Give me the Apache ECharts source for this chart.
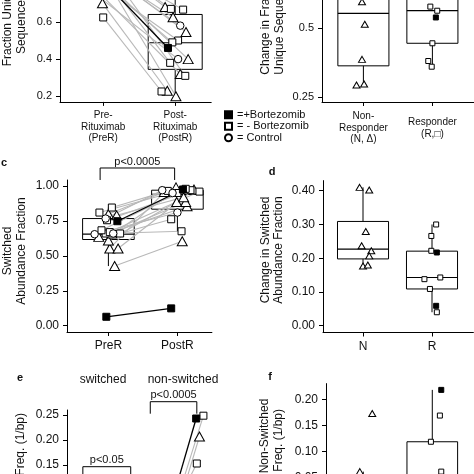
<!DOCTYPE html>
<html><head><meta charset="utf-8">
<script src="https://cdn.jsdelivr.net/npm/echarts@6/dist/echarts.min.js"></script>
<style>html,body{margin:0;padding:0;background:#fff}#c{width:474px;height:474px}</style>
</head><body><div id="c"></div>
<script>
// ---------- Panel a : fraction unique sequences, paired PreR / PostR ----------
const aCats = ['Pre-\nRituximab\n(PreR)', 'Post-\nRituximab\n(PostR)'];
const aShapes = ['tri','sq','sq','tri','circ','tri','sq','sq','fill','circ','tri','sq','tri','sq','sq','tri','tri','circ','sq','tri'];
const aPre    = [0.92,0.95,0.88,0.90,0.86,0.84,0.80,0.78,0.82,0.76,0.79,0.83,0.77,0.85,0.624,0.70,0.81,0.97,0.93,0.89];
const aPost   = [0.68,0.67,0.666,0.625,0.58,0.546,0.50,0.49,0.46,0.40,0.40,0.38,0.32,0.31,0.226,0.23,0.20,0.77,0.80,0.76];
const aPreJit = [0.06,-0.08,0.12,-0.12,0.03,0.15,-0.05,0.09,0.0,-0.14,0.10,0.04,-0.09,0.13,0.0,-0.01,0.07,-0.06,0.11,-0.03];
const aPostJit= [-0.14,-0.06,0.11,-0.03,0.07,0.15,0.04,-0.04,-0.10,0.04,0.18,-0.07,0.07,0.14,-0.19,-0.11,0.01,0.0,-0.10,0.12];
const aBoxes  = [[0.72,0.78,0.84,0.90,0.97],[0.20,0.345,0.488,0.64,0.80]]; // [low, q1, median, q3, high]
const aTicks  = [0.2,0.4,0.6,0.8,1.0];

// ---------- Panel b : change in fraction unique sequences (log scale) ----------
const bCats = ['Non-\nResponder\n(N, Δ)', 'Responder\n(R,□)'];
const bNVals = [0.282,0.285,0.365,0.519,0.651,0.74,0.82,0.95];
const bNJit  = [-0.10,0.01,-0.02,0.02,-0.02,0.08,-0.06,0.05];
const bNShapes = ['tri','tri','tri','tri','tri','tri','tri','tri'];
const bRVals = [0.339,0.359,0.429,0.556,0.595,0.62,0.72,0.80,0.90];
const bRJit  = [-0.01,-0.06,0.0,0.05,0.07,-0.03,0.04,-0.05,0.06];
const bRShapes = ['sq','sq','sq','fill','sq','sq','sq','fill','sq'];
const bBoxes = [[0.282,0.342,0.579,0.76,0.95],[0.339,0.429,0.595,0.72,0.90]];
const bTicks = [0.25,0.5,1];

// ---------- Panel c : switched abundance fraction, paired ----------
const cCats = ['PreR','PostR'];
const cShapes = ['fill','fill','tri','tri','tri','tri','tri','tri','tri','tri','sq','sq','sq','sq','sq','sq','sq','circ','circ','circ'];
const cPre    = [0.748,0.064,0.427,0.553,0.553,0.61,0.636,0.66,0.80,0.79,0.66,0.66,0.683,0.67,0.755,0.81,0.846,0.767,0.655,0.66];
const cPost   = [0.975,0.124,0.605,0.957,0.975,0.886,0.855,0.886,0.99,0.92,0.676,0.762,0.95,0.96,0.97,0.98,0.965,0.97,0.81,0.95];
const cPreJit = [0.13,-0.03,0.09,0.02,0.14,0.0,-0.14,0.05,0.0,0.12,-0.04,0.17,-0.10,0.02,-0.02,-0.13,0.05,-0.04,-0.20,0.07];
const cPostJit= [0.08,-0.09,0.07,-0.19,0.24,-0.01,0.14,0.12,-0.02,0.09,0.06,-0.09,0.0,0.32,0.19,0.12,-0.14,-0.22,0.0,-0.07];
const cBoxes  = [[0.427,0.617,0.655,0.767,0.846],[0.676,0.834,0.94,0.97,0.99]];
const cTicks  = [0,0.25,0.5,0.75,1.0];

// ---------- Panel d : change in switched abundance fraction ----------
const dCats = ['N','R'];
const dNVals = [0.41,0.402,0.279,0.237,0.222,0.207,0.177,0.18];
const dNJit  = [-0.05,0.09,0.04,-0.02,0.12,0.09,0.0,0.07];
const dNShapes = ['tri','tri','tri','tri','tri','tri','tri','tri'];
const dRVals = [0.30,0.266,0.222,0.217,0.138,0.143,0.109,0.059,0.04];
const dRJit  = [0.06,-0.01,-0.01,0.07,-0.11,0.12,-0.03,0.06,0.07];
const dRShapes = ['sq','sq','sq','fill','sq','sq','sq','fill','sq'];
const dBoxes = [[0.177,0.198,0.227,0.309,0.41],[0.04,0.109,0.143,0.221,0.30]];
const dTicks = [0,0.1,0.2,0.3,0.4];

// ---------- Panel e : mutation frequency, switched / non-switched facets ----------
const eCats = ['PreR','PostR'];
const eSwShapes = ['fill','sq','tri','sq','tri','circ','tri','sq'];
const eSwPre    = [0.08,0.07,0.09,0.06,0.075,0.085,0.065,0.07];
const eSwPost   = [0.10,0.11,0.09,0.115,0.095,0.105,0.08,0.10];
const eSwPreJit = [0.0,0.08,-0.06,0.1,-0.1,0.04,0.12,-0.03];
const eSwPostJit= [0.02,-0.08,0.1,0.05,-0.05,0.12,-0.1,0.0];
const eNsShapes = ['fill','sq','tri','sq','tri','sq','circ','tri'];
const eNsPre    = [0.03,0.025,0.012,0.02,0.03,0.035,0.025,0.02];
const eNsPost   = [0.243,0.2486,0.207,0.153,0.11,0.09,0.07,0.06];
const eNsPreJit = [0.0,0.10,0.15,-0.05,0.05,-0.10,0.0,0.08];
const eNsPostJit= [-0.06,0.16,0.04,-0.04,0.10,-0.05,0.02,0.08];
const eTicks = [0,0.05,0.10,0.15,0.20,0.25];

// ---------- Panel f : change in non-switched mutation frequency ----------
const fCats = ['N','R'];
const fNVals = [0.173,0.062,0.045,0.03,0.04,0.02,0.035,0.048];
const fNJit  = [0.13,-0.05,0.05,-0.08,0.1,0.0,-0.1,0.06];
const fNShapes = ['tri','tri','tri','tri','tri','tri','tri','tri'];
const fRVals = [0.218,0.169,0.119,0.062,0.05,0.045,0.04,0.03,0.02];
const fRJit  = [0.13,0.11,-0.02,0.13,-0.08,0.05,-0.1,0.08,0.0];
const fRShapes = ['fill','sq','sq','sq','sq','sq','sq','fill','sq'];
const fBoxes = [[0.02,0.03,0.04,0.046,0.062],[0.02,0.03,0.045,0.119,0.218]];
const fTicks = [0,0.05,0.10,0.15,0.20];

// ---------- brackets (p-values) ----------
const brackets = [
  {axis:2, from:0.88, to:1.96, at:1.129, text:'p<0.0005'},
  {axis:5, from:0.55, to:1.96, at:0.2766, text:'p<0.0005'},
  {axis:4, from:0.84, to:2.29, at:0.1466, text:'p<0.05'}
];

const FONT = '"Liberation Sans", Arial, Helvetica, sans-serif';
const INK = '#111';
const SYM = {tri:'triangle', sq:'rect', fill:'rect', circ:'circle'};
const NAME = {fill:'=+Bortezomib', sq:'= - Bortezomib', circ:'= Control', tri:'Non-Responder'};
const BIG = {tri:[10,9], sq:7, circ:7.5, fill:7};
const SMALL = {tri:[7,6], sq:5, circ:5, fill:5};

function scatterSeries(ai, shapes, vals, jit, base, sizes) {
  const out = [];
  ['tri','sq','circ','fill'].forEach(sh => {
    const data = [];
    vals.forEach((v,i) => { if (shapes[i] === sh) data.push([base + jit[i], v]); });
    if (!data.length) return;
    out.push({type:'scatter', name:NAME[sh], xAxisIndex:ai, yAxisIndex:ai, symbol:SYM[sh],
      symbolSize:sizes[sh], data, z:4, silent:true, animation:false,
      itemStyle:{color: sh === 'fill' ? '#000' : '#fff', borderColor:'#000', borderWidth:1, opacity:1}});
  });
  return out;
}
function pairSeries(ai, shapes, pre, post, preJ, postJ) {
  return {type:'custom', xAxisIndex:ai, yAxisIndex:ai, z:2, silent:true, animation:false,
    data: pre.map((v,i) => [1 + preJ[i], v, 2 + postJ[i], post[i], shapes[i] === 'fill' ? 1 : 0]),
    renderItem(p, api) {
      const a = api.coord([api.value(0), api.value(1)]);
      const b = api.coord([api.value(2), api.value(3)]);
      const dark = api.value(4) === 1;
      return {type:'line', z2: dark ? 10 : 1, shape:{x1:a[0], y1:a[1], x2:b[0], y2:b[1]},
        style:{stroke: dark ? '#000' : '#b8b8b8', lineWidth: dark ? 1.3 : 1.1}};
    }};
}
function boxSeries(ai, stats, halfW) {
  return {type:'custom', xAxisIndex:ai, yAxisIndex:ai, z:1, silent:true, animation:false,
    data: stats.map((s,i) => [i + 1].concat(s)),
    renderItem(p, api) {
      const x = api.value(0);
      const lo = api.coord([x, api.value(1)]), q1 = api.coord([x, api.value(2)]);
      const md = api.coord([x, api.value(3)]), q3 = api.coord([x, api.value(4)]);
      const hi = api.coord([x, api.value(5)]);
      const L = api.coord([x - halfW, api.value(2)]), R = api.coord([x + halfW, api.value(4)]);
      const st = {stroke:'#000', lineWidth:1, fill:null};
      return {type:'group', children:[
        {type:'line', shape:{x1:lo[0], y1:lo[1], x2:q1[0], y2:q1[1]}, style:st},
        {type:'line', shape:{x1:q3[0], y1:q3[1], x2:hi[0], y2:hi[1]}, style:st},
        {type:'rect', shape:{x:L[0], y:R[1], width:R[0]-L[0], height:L[1]-R[1]}, style:st},
        {type:'line', shape:{x1:L[0], y1:md[1], x2:R[0], y2:md[1]}, style:{stroke:'#000', lineWidth:1.2}}
      ]};
    }};
}

const grids = [
  {left:60,  top:-52.5, width:151.2, height:154.4},
  {left:322, top:-59.1, width:151.8, height:161.1},
  {left:67,  top:180,   width:144.9, height:152},
  {left:323, top:180.6, width:150.4, height:151.9},
  {left:67,  top:410,   width:73.3,  height:130},
  {left:145, top:410,   width:70.3,  height:130},
  {left:326, top:383.6, width:147.7, height:120.5}
].map(g => Object.assign({outerBoundsMode:'none', containLabel:false}, g));

const axLine = {show:true, onZero:false, lineStyle:{color:'#000', width:1}};
function xAx(gi, min, max, cats, fs, margin) {
  return {gridIndex:gi, type:'value', min, max, splitLine:{show:false},
    axisLine:axLine,
    axisTick:{show:true, length:4, customValues:[1,2], lineStyle:{color:'#000'}},
    axisLabel:{customValues:[1,2], formatter: v => cats[Math.round(v)-1] || '', fontSize:fs,
      fontFamily:FONT, color:INK, margin, verticalAlign:'middle', lineHeight: fs + 1.5}};
}
function yAx(gi, min, max, ticks, fs, dec, type, show) {
  const o = {gridIndex:gi, type: type || 'value', min, max, splitLine:{show:false}, show: show !== false,
    axisLine:axLine,
    axisTick:{show:true, length:4, customValues:ticks, lineStyle:{color:'#000'}},
    axisLabel:{customValues:ticks, formatter: v => dec == null ? String(+(+v).toFixed(2)) : (+v).toFixed(dec),
      fontSize:fs, fontFamily:FONT, color:INK, margin:8}};
  if (type === 'log') o.logBase = 2;
  return o;
}

const xAxis = [
  xAx(0, 0.4, 2.5, aCats, 10, 25),
  xAx(1, 0.4, 2.6, bCats, 10, 26),
  xAx(2, 0.4, 2.5, cCats, 12, 14),
  xAx(3, 0.42, 2.6, dCats, 12, 14),
  xAx(4, 0.36, 2.58, eCats, 12, 14),
  xAx(5, 0.39, 2.52, eCats, 12, 14),
  xAx(6, 0.46, 2.6, fCats, 12, 14)
];
const yAxis = [
  yAx(0, 0.17, 1.0, aTicks, 11, 1),
  yAx(1, 0.2378, 1.2, bTicks, 11, null, 'log'),
  yAx(2, -0.045, 1.043, cTicks, 12, 2),
  yAx(3, -0.02, 0.43, dTicks, 12, 2),
  yAx(4, 0, 0.26, eTicks, 12, 2),
  yAx(5, 0, 0.26, eTicks, 12, 2, 'value', false),
  yAx(6, 0, 0.23, fTicks, 12, 2)
];

const series = [].concat(
  boxSeries(0, aBoxes, 0.375),
  pairSeries(0, aShapes, aPre, aPost, aPreJit, aPostJit),
  scatterSeries(0, aShapes, aPre, aPreJit, 1, BIG),
  scatterSeries(0, aShapes, aPost, aPostJit, 2, BIG),
  boxSeries(1, bBoxes, 0.37),
  scatterSeries(1, bNShapes, bNVals, bNJit, 1, SMALL),
  scatterSeries(1, bRShapes, bRVals, bRJit, 2, SMALL),
  boxSeries(2, cBoxes, 0.374),
  pairSeries(2, cShapes, cPre, cPost, cPreJit, cPostJit),
  scatterSeries(2, cShapes, cPre, cPreJit, 1, BIG),
  scatterSeries(2, cShapes, cPost, cPostJit, 2, BIG),
  boxSeries(3, dBoxes, 0.37),
  scatterSeries(3, dNShapes, dNVals, dNJit, 1, SMALL),
  scatterSeries(3, dRShapes, dRVals, dRJit, 2, SMALL),
  pairSeries(4, eSwShapes, eSwPre, eSwPost, eSwPreJit, eSwPostJit),
  scatterSeries(4, eSwShapes, eSwPre, eSwPreJit, 1, BIG),
  scatterSeries(4, eSwShapes, eSwPost, eSwPostJit, 2, BIG),
  pairSeries(5, eNsShapes, eNsPre, eNsPost, eNsPreJit, eNsPostJit),
  scatterSeries(5, eNsShapes, eNsPre, eNsPreJit, 1, BIG),
  scatterSeries(5, eNsShapes, eNsPost, eNsPostJit, 2, BIG),
  boxSeries(6, fBoxes, 0.367),
  scatterSeries(6, fNShapes, fNVals, fNJit, 1, SMALL),
  scatterSeries(6, fRShapes, fRVals, fRJit, 2, SMALL)
);

function txt(x, y, text, o) {
  o = o || {};
  return {type:'text', x, y, rotation: o.rot || 0, silent:true, z:10,
    style:{text, fontSize:o.fs || 12, fontFamily:FONT, fontWeight:o.bold ? 'bold' : 'normal',
      fill:INK, textAlign:o.align || 'center', textVerticalAlign:'middle', lineHeight:o.lh || 14}};
}
const R90 = Math.PI / 2;
const staticGraphics = [
  txt(15, 24, 'Fraction Unique\nSequences', {rot:R90, lh:14}),
  txt(272.5, 24, 'Change in Fraction\nUnique Sequences', {rot:R90, lh:14.5}),
  txt(4, 163, 'c', {bold:true, fs:11}),
  txt(14.5, 251, 'Switched\nAbundance Fraction', {rot:R90, lh:14}),
  txt(272, 172, 'd', {bold:true, fs:11}),
  txt(272, 250, 'Change in Switched\nAbundance Fraction', {rot:R90, lh:13}),
  txt(20, 378, 'e', {bold:true, fs:11}),
  txt(103, 380, 'switched', {fs:12}),
  txt(183, 380, 'non-switched', {fs:12}),
  txt(21, 413, 'Mutation Freq. (1/bp)', {rot:R90, align:'right'}),
  txt(270, 377, 'f', {bold:true, fs:11}),
  txt(272, 465, 'Change in Non-Switched\nMutation Freq. (1/bp)', {rot:R90, lh:14})
];

const chart = echarts.init(document.getElementById('c'), null, {renderer:'canvas'});
chart.setOption({
  animation:false,
  backgroundColor:'#fff',
  textStyle:{fontFamily:FONT},
  grid:grids, xAxis, yAxis, series,
  legend:{orient:'vertical', left:224, top:109, itemWidth:7, itemHeight:7, itemGap:0, padding:0,
    selectedMode:false,
    textStyle:{fontSize:11, fontFamily:FONT, color:INK, lineHeight:11.5},
    data:[{name:'=+Bortezomib', icon:'rect'}, {name:'= - Bortezomib', icon:'rect'}, {name:'= Control', icon:'circle'}]},
  graphic: staticGraphics
});

const bracketGraphics = [];
brackets.forEach(b => {
  const p1 = chart.convertToPixel({xAxisIndex:b.axis, yAxisIndex:b.axis}, [b.from, b.at]);
  const p2 = chart.convertToPixel({xAxisIndex:b.axis, yAxisIndex:b.axis}, [b.to, b.at]);
  bracketGraphics.push({type:'polyline', silent:true, z:10,
    shape:{points:[[p1[0], p1[1] + 12], [p1[0], p1[1]], [p2[0], p2[1]], [p2[0], p2[1] + 12]]},
    style:{stroke:'#000', lineWidth:1, fill:null}});
  bracketGraphics.push(txt((p1[0] + p2[0]) / 2, p1[1] - 6.5, b.text, {fs:11}));
});
chart.setOption({graphic: staticGraphics.concat(bracketGraphics)});
</script>
</body></html>
